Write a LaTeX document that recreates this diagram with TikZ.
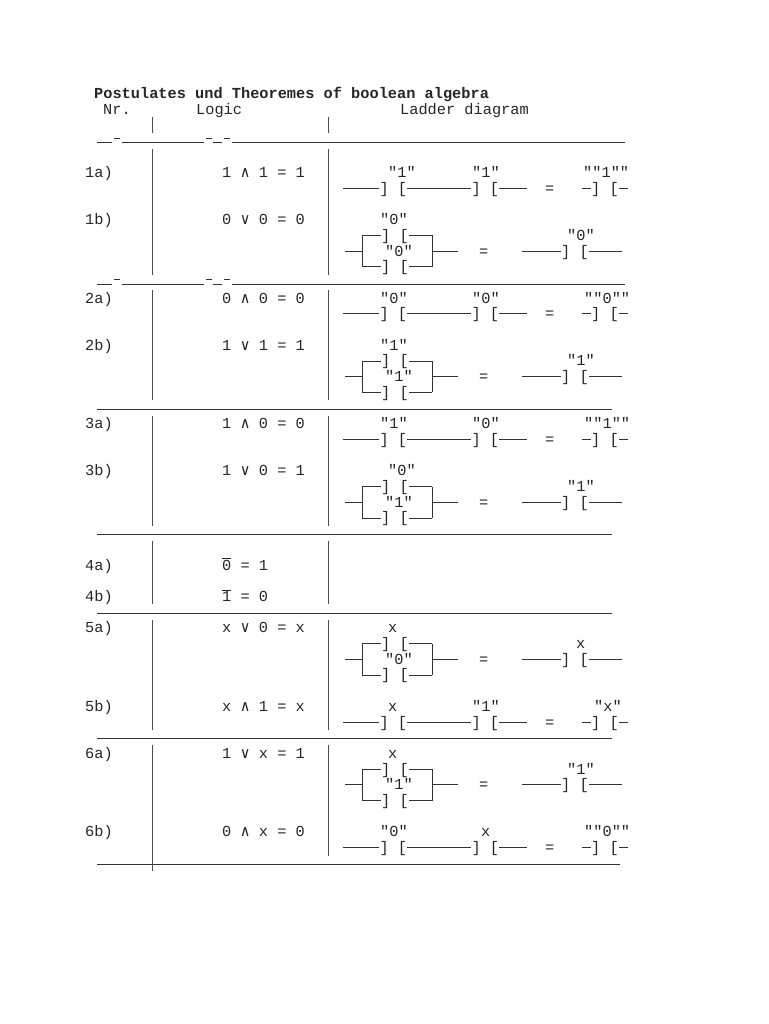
\documentclass[tikz,border=0pt]{standalone}
\usepackage{fontspec}
\newfontfamily\mono{Liberation Mono}
\newfontfamily\symf{DejaVu Sans Mono}
\usetikzlibrary{calc}

% row centre (pixels from the top)
\def\ry#1{94+15.7*(#1)}
\newcommand\lbl[4]{\node[txt] (#1) at (#2,{\ry{#3}+5}) {#4};}
% series rung: name, label row, three labels with their x
\newcommand\series[7]{%
 \draw[wire] (343,{\ry{#2+1}}) -- (379.4,{\ry{#2+1}});
 \lbl{#1c1}{379.4}{#2+1}{] [}
 \draw[wire] (#1c1.east|-0,{\ry{#2+1}}) -- (471.4,{\ry{#2+1}});
 \lbl{#1c2}{471.4}{#2+1}{] [}
 \draw[wire] (#1c2.east|-0,{\ry{#2+1}}) -- (527,{\ry{#2+1}});
 \lbl{#1eq}{545}{#2+1}{=}
 \draw[wire] (582,{\ry{#2+1}}) -- (591,{\ry{#2+1}});
 \lbl{#1c3}{591}{#2+1}{] [}
 \draw[wire] (#1c3.east|-0,{\ry{#2+1}}) -- (628,{\ry{#2+1}});
 \lbl{#1l1}{#4}{#2}{#3}
 \lbl{#1l2}{#6}{#2}{#5}
 \lbl{#1l3}{#7}{#2}{"#3"}}
% parallel rung: name, label row, top label, its x, middle label, right label, its x
\newcommand\pbranch[7]{%
 \draw[wire] (362,{\ry{#2+1}}) -- (362,{\ry{#2+3}})
   (432,{\ry{#2+1}}) -- (432,{\ry{#2+3}});
 \foreach \r/\s in {1/t,3/b}{
  \draw[wire] (362,{\ry{#2+\r}}) -- (381,{\ry{#2+\r}});
  \lbl{#1\s}{381}{#2+\r}{] [}
  \draw[wire] (#1\s.east|-0,{\ry{#2+\r}}) -- (432,{\ry{#2+\r}});
 }
 \draw[wire] (345,{\ry{#2+2}}) -- (362,{\ry{#2+2}})
   (432,{\ry{#2+2}}) -- (458,{\ry{#2+2}});
 \lbl{#1l1}{#4}{#2}{#3}
 \lbl{#1l2}{385}{#2+2}{#5}
 \lbl{#1eq}{479}{#2+2}{=}
 \draw[wire] (522,{\ry{#2+2}}) -- (561,{\ry{#2+2}});
 \lbl{#1c}{561}{#2+2}{] [}
 \draw[wire] (#1c.east|-0,{\ry{#2+2}}) -- (622,{\ry{#2+2}});
 \lbl{#1l3}{#7}{#2+1}{#6}}
\newcommand\bars[2]{\draw[bar] (152,{\ry{#1}-8}) -- (152,{\ry{#2}+8})
  (328,{\ry{#1}-8}) -- (328,{\ry{#2}+8});}

\begin{document}
\begin{tikzpicture}[x=1pt,y=-1pt,
 txt/.style={font=\mono\fontsize{15.3}{16}\selectfont,inner sep=0pt,anchor=base west,text=black!85},
 wire/.style={line width=0.8pt,black!80},
 bar/.style={line width=0.6pt,black!70},
 sep/.style={line width=0.8pt,black!80}]
 \useasboundingbox (0,0) rectangle (768,1024);

 % heading
 \node[txt,font=\mono\bfseries\fontsize{15.3}{16}\selectfont] (title) at (94,{\ry{0}+5})
   {Postulates und Theoremes of boolean algebra};
 \lbl{hnr}{103}{1}{Nr.}
 \lbl{hlog}{196}{1}{Logic}
 \lbl{hlad}{400}{1}{Ladder diagram}
 \bars{2}{2}

 % separators with hyphens
 \foreach \r in {3,12}{
  \draw[sep] (97,{\ry{\r}+1.5}) -- (112,{\ry{\r}+1.5}) (122,{\ry{\r}+1.5}) -- (204,{\ry{\r}+1.5})
   (213,{\ry{\r}+1.5}) -- (222,{\ry{\r}+1.5}) (232,{\ry{\r}+1.5}) -- (625,{\ry{\r}+1.5});
  \draw[sep] (114,{\ry{\r}-3}) -- (120,{\ry{\r}-3}) (206,{\ry{\r}-3}) -- (212,{\ry{\r}-3})
   (224,{\ry{\r}-3}) -- (230,{\ry{\r}-3});
 }
 \foreach \r in {20,28,33,41}{\draw[sep] (97,{\ry{\r}+1}) -- (612,{\ry{\r}+1});}
 \draw[sep] (97,{\ry{49}+1}) -- (620,{\ry{49}+1});

 % column bars
 \bars{4}{11}
 \bars{13}{19}
 \bars{21}{27}
 \bars{29}{32}
 \bars{34}{40}
 \bars{42}{48}
 \draw[bar] (152,{\ry{49}-8}) -- (152,{\ry{49}+8});

 % numbers
 \foreach \n/\r in {1a)/5,1b)/8,2a)/13,2b)/16,3a)/21,3b)/24,4a)/30,4b)/32,5a)/34,5b)/39,6a)/42,6b)/47}
  {\lbl{nr\r}{85}{\r}{\n}}

 % logic
 \lbl{lg5}{222}{5}{1 {\symf∧} 1 = 1}
 \lbl{lg8}{222}{8}{0 {\symf∨} 0 = 0}
 \lbl{lg13}{222}{13}{0 {\symf∧} 0 = 0}
 \lbl{lg16}{222}{16}{1 {\symf∨} 1 = 1}
 \lbl{lg21}{222}{21}{1 {\symf∧} 0 = 0}
 \lbl{lg24}{222}{24}{1 {\symf∨} 0 = 1}
 \lbl{lg30}{222}{30}{$\overline{\hbox{0}}$ = 1}
 \lbl{lg32}{222}{32}{$\overline{\hbox{1}}$ = 0}
 \lbl{lg34}{222}{34}{x {\symf∨} 0 = x}
 \lbl{lg39}{222}{39}{x {\symf∧} 1 = x}
 \lbl{lg42}{222}{42}{1 {\symf∨} x = 1}
 \lbl{lg47}{222}{47}{0 {\symf∧} x = 0}

 % ladder diagrams
 \series{sa}{5}{"1"}{388}{"1"}{472}{583}
 \pbranch{pa}{8}{"0"}{380}{"0"}{"0"}{567}
 \series{sb}{13}{"0"}{380}{"0"}{472}{584}
 \pbranch{pb}{16}{"1"}{380}{"1"}{"1"}{567}
 \series{sc}{21}{"1"}{380}{"0"}{472}{584}
 \pbranch{pc}{24}{"0"}{388}{"1"}{"1"}{567}
 \pbranch{pd}{34}{x}{388}{"0"}{x}{576}
 \series{se}{39}{x}{388}{"1"}{472}{594}
 \pbranch{pf}{42}{x}{388}{"1"}{"1"}{567}
 \series{sf}{47}{"0"}{380}{x}{481}{584}
\end{tikzpicture}
\end{document}
